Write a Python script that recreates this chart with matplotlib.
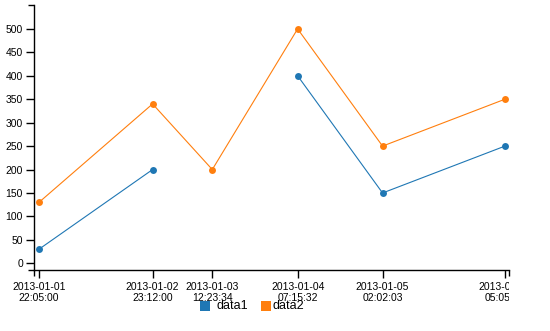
import matplotlib
matplotlib.use("Agg")
import matplotlib.pyplot as plt
import matplotlib.dates as mdates
from matplotlib.transforms import Bbox
from matplotlib.patches import Rectangle
import numpy as np
import pandas as pd

plt.rcParams['font.family'] = ['Liberation Sans', 'DejaVu Sans']

timestamps = ["2013-01-01 22:05:00", "2013-01-02 23:12:00", "2013-01-03 12:23:34",
              "2013-01-04 07:15:32", "2013-01-05 02:02:03", "2013-01-06 05:05:00"]
data1 = [30, 200, np.nan, 400, 150, 250]
data2 = [130, 340, 200, 500, 250, 350]
series_names = ["data1", "data2"]
colors = ["#1f77b4", "#ff7f0e"]
yticks = list(range(0, 501, 50))

x = mdates.date2num(pd.to_datetime(timestamps))
xlabels = [t.replace(" ", "\n") for t in timestamps]

W, H = 550, 331
fig = plt.figure(figsize=(W / 100, H / 100), dpi=100)
ax = fig.add_axes([34 / W, 61 / H, 475 / W, 265 / H])

for vals, c in zip([data1, data2], colors):
    ax.plot(x, vals, color=c, lw=0.8, marker='o', ms=5, mew=0, zorder=3)

hours = 1 / 24
ax.set_xlim(x[0] - 1.1 * hours, x[-1] + 0.9 * hours)
ax.set_ylim(-14.3, 551)

ax.set_yticks(yticks)
ax.set_yticklabels([str(v) for v in yticks])
ax.set_xticks(x)
ax.set_xticklabels(xlabels, linespacing=1.1)

for s in ['top', 'right']:
    ax.spines[s].set_visible(False)
for s in ['left', 'bottom']:
    ax.spines[s].set_linewidth(1)
    ax.spines[s].set_color('black')

ax.tick_params(axis='both', direction='out', length=6, width=1, colors='black',
               labelsize=7.5)
ax.tick_params(axis='x', pad=2.5)
ax.tick_params(axis='y', pad=2)

# outer ticks at axis ends
tick_px = 6
dx = tick_px / 475
dy = tick_px / 265
for (xs, ys) in [([0, -dx], [1, 1]), ([0, -dx], [0, 0]), ([0, 0], [0, -dy]), ([1, 1], [0, -dy])]:
    ax.plot(xs, ys, color='black', lw=1, transform=ax.transAxes, clip_on=False,
            solid_capstyle='butt')

# clip tick labels at the right end of the axis
fig.canvas.draw()
clipbox = Bbox.from_extents(0, 0, ax.bbox.x1, fig.bbox.y1)
for lbl in ax.get_xticklabels():
    lbl.set_clip_box(clipbox)
    lbl.set_clip_on(True)

# legend (manual, below the plot)
legend_layout = [(200, 216.5), (260.7, 272.5)]
for (sq_x, tx), name, c in zip(legend_layout, series_names, colors):
    fig.add_artist(Rectangle((sq_x / W, (H - 310.7) / H), 10 / W, 10 / H,
                             transform=fig.transFigure, facecolor=c, edgecolor='none'))
    fig.text(tx / W, (H - 309.3) / H, name, fontsize=9, ha='left', va='baseline',
             color='black')

fig.savefig("out.png", dpi=100)
